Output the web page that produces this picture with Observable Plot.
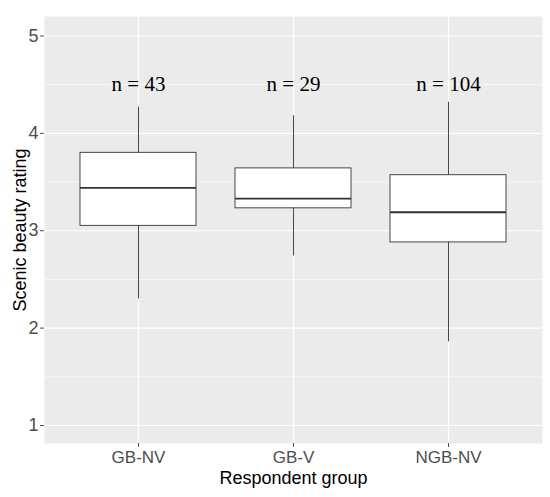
<!DOCTYPE html>
<html>
<head>
<meta charset="utf-8">
<script src="https://cdn.jsdelivr.net/npm/d3@7"></script>
<script src="https://cdn.jsdelivr.net/npm/@observablehq/plot@0.6"></script>
<style>
  body { margin: 0; background: white; }
</style>
</head>
<body>
<div id="chart"></div>
<script>
// box summary per respondent group
const groups = ["GB-NV", "GB-V", "NGB-NV"];
const whiskerLow = [2.30, 2.74, 1.86];
const q1 = [3.05, 3.23, 2.88];
const median = [3.44, 3.33, 3.19];
const q3 = [3.80, 3.64, 3.57];
const whiskerHigh = [4.27, 4.18, 4.32];
const counts = [43, 29, 104];

const yTicks = [1, 2, 3, 4, 5];
const yMinor = [1.5, 2.5, 3.5, 4.5];

const data = groups.map((g, i) => ({
  group: g,
  low: whiskerLow[i],
  q1: q1[i],
  median: median[i],
  q3: q3[i],
  high: whiskerHigh[i],
  n: counts[i]
}));

const chart = Plot.plot({
  width: 550,
  height: 497,
  marginLeft: 44,
  marginRight: 8,
  marginTop: 16,
  marginBottom: 54,
  style: {
    fontFamily: "Liberation Sans, Arial, sans-serif",
    background: "white"
  },
  x: {
    type: "band",
    domain: groups,
    paddingInner: 0.25,
    paddingOuter: 0.225
  },
  y: {
    domain: [0.815, 5.2]
  },
  marks: [
    Plot.frame({fill: "#EBEBEB", stroke: null}),
    Plot.gridY(yMinor, {stroke: "white", strokeOpacity: 1, strokeWidth: 0.6}),
    Plot.gridY(yTicks, {stroke: "white", strokeOpacity: 1, strokeWidth: 1.2}),
    Plot.gridX(groups, {stroke: "white", strokeOpacity: 1, strokeWidth: 1.2}),
    Plot.ruleX(data, {x: "group", y1: "low", y2: "high", stroke: "#333", strokeWidth: 0.9}),
    Plot.barY(data, {x: "group", y1: "q1", y2: "q3", fill: "white", stroke: "#333", strokeWidth: 0.9}),
    Plot.tickY(data, {x: "group", y: "median", stroke: "#333", strokeWidth: 1.8}),
    Plot.text(data, {
      x: "group",
      y: () => 4.5,
      text: d => `n = ${d.n}`,
      fontFamily: "Liberation Serif, Times New Roman, serif",
      fontSize: 21,
      fill: "black"
    }),
    Plot.axisY(yTicks, {
      tickSize: 4,
      tickPadding: 2,
      tickFormat: d3.format("d"),
      fontSize: 18,
      color: "#4d4d4d",
      label: null
    }),
    Plot.axisY([], {
      label: "Scenic beauty rating",
      labelAnchor: "center",
      labelArrow: "none",
      labelOffset: 31,
      fontSize: 18,
      color: "black"
    }),
    Plot.axisX(groups, {
      tickSize: 4,
      tickPadding: 3,
      fontSize: 17,
      color: "#4d4d4d",
      label: null
    }),
    Plot.axisX([], {
      label: "Respondent group",
      labelAnchor: "center",
      labelArrow: "none",
      labelOffset: 40,
      fontSize: 18,
      color: "black"
    })
  ]
});

document.getElementById("chart").append(chart);
</script>
</body>
</html>
